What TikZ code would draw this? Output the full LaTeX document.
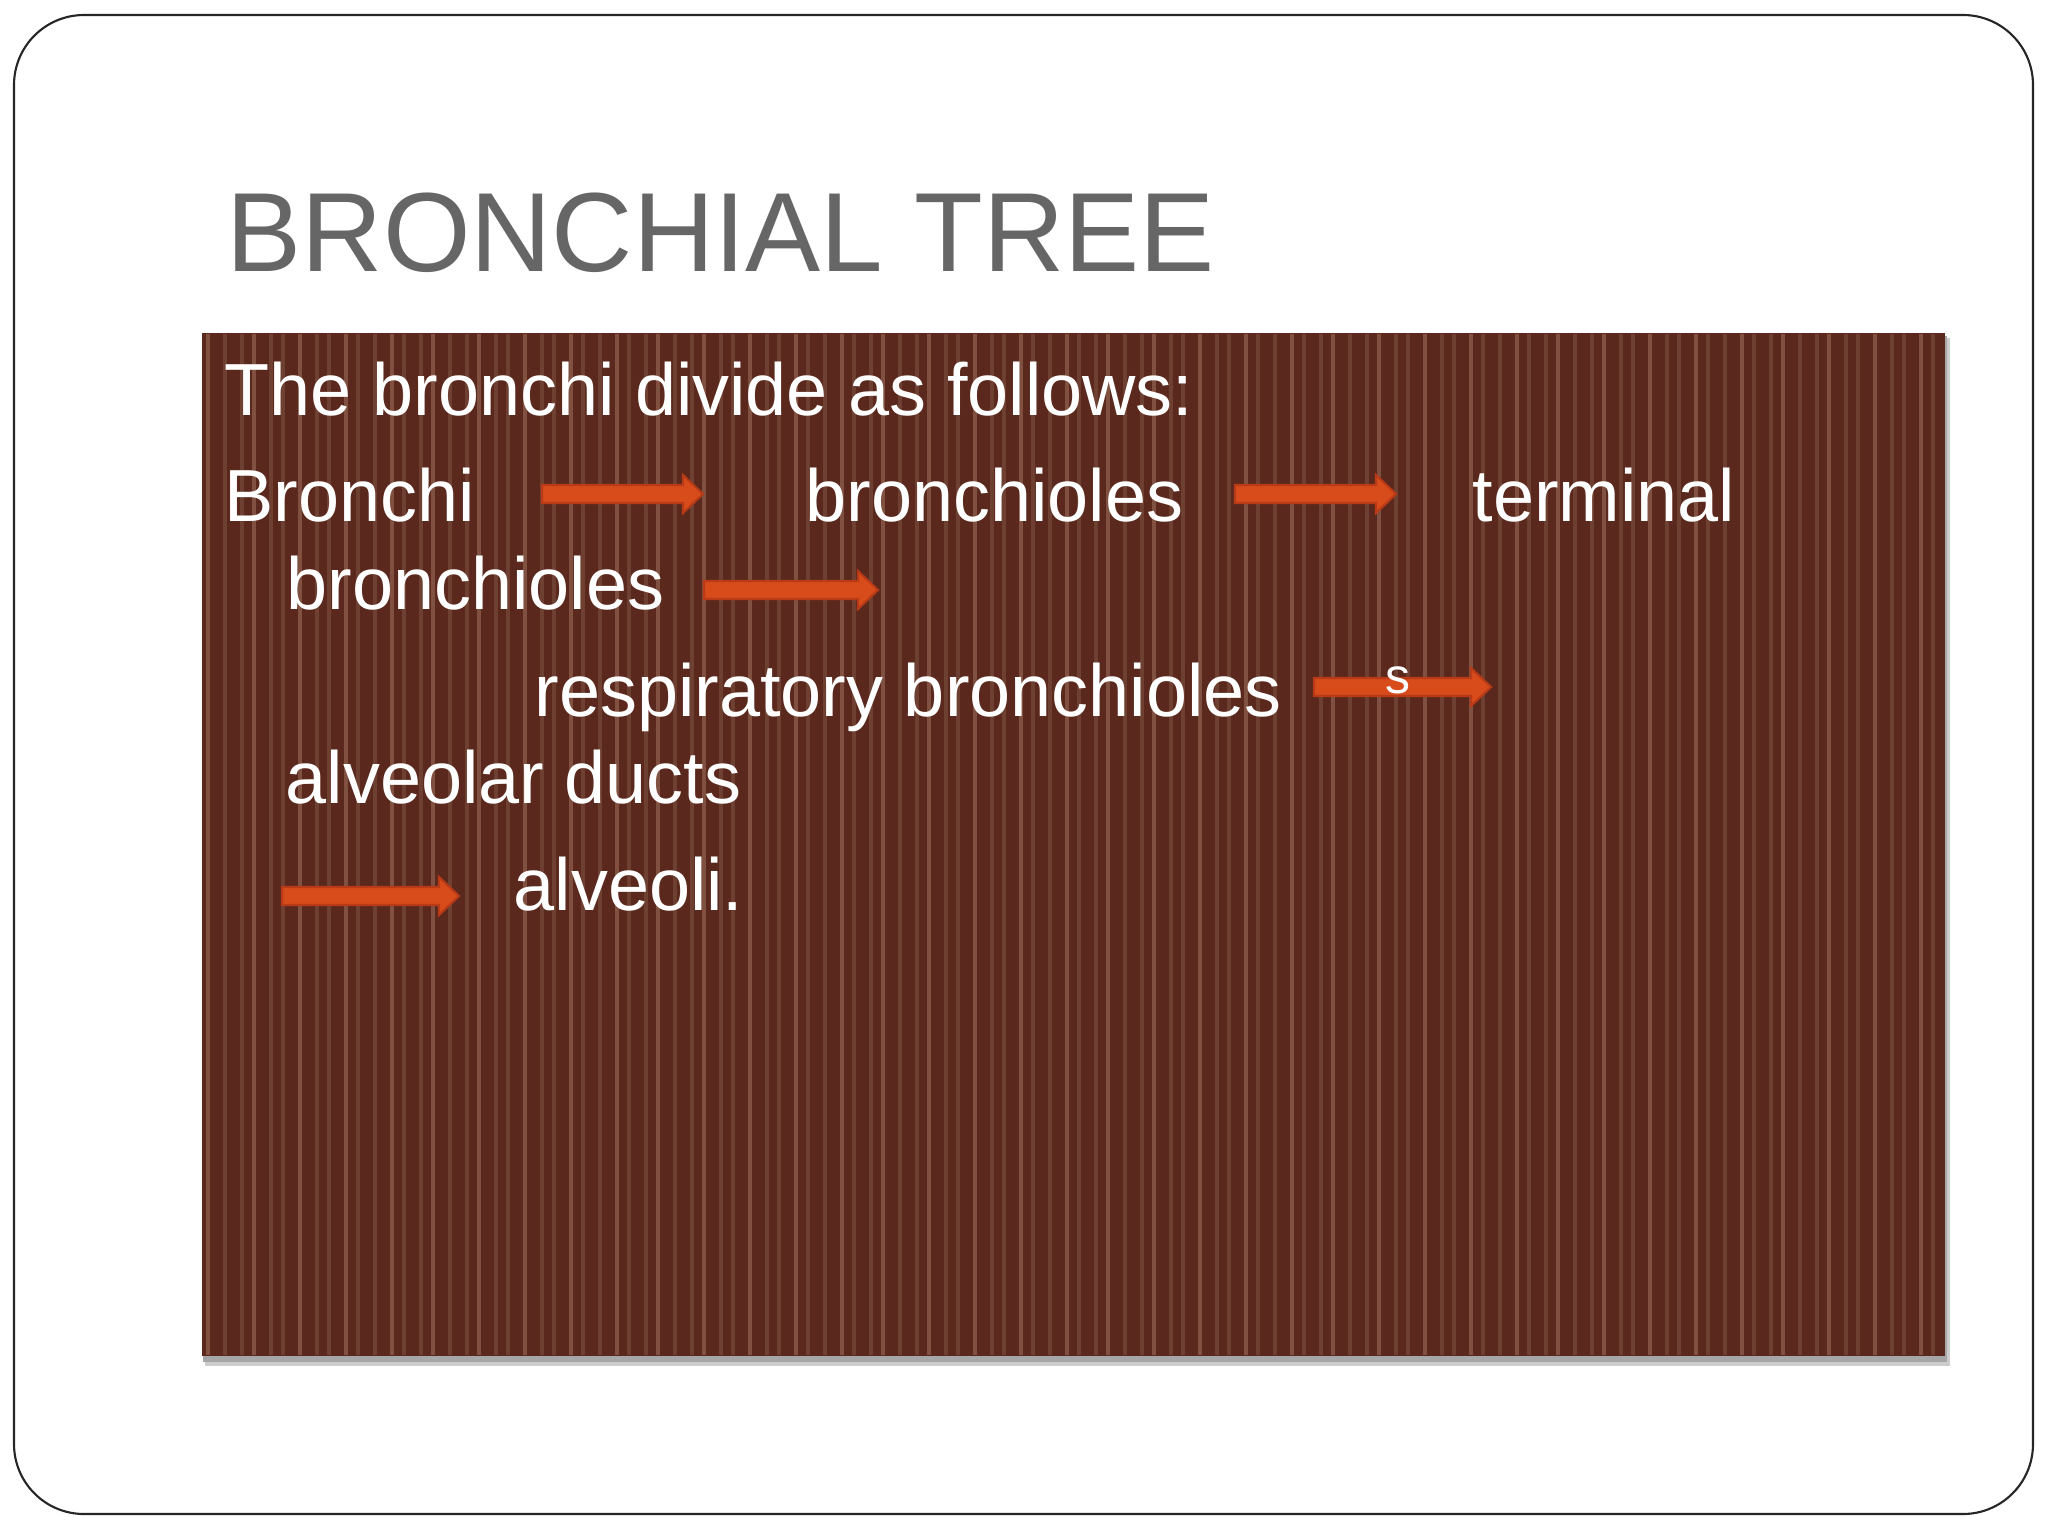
\documentclass[tikz,border=0pt]{standalone}
\usepackage{fontspec}
\setmainfont{Liberation Sans}
\definecolor{boxbrown}{RGB}{90,40,29}
\definecolor{stripeA}{RGB}{128,80,64}
\definecolor{stripeB}{RGB}{110,64,50}
\definecolor{arrowfill}{RGB}{216,76,28}
\definecolor{arrowline}{RGB}{185,58,22}
\definecolor{titlegray}{RGB}{102,102,102}
\tikzset{
  bodytext/.style={anchor=base west, inner sep=0pt, text=white, font=\fontsize{21pt}{25pt}\selectfont},
  titletext/.style={anchor=base west, inner sep=0pt, text=titlegray, font=\fontsize{32pt}{38pt}\selectfont},
  arrowsty/.style={fill=arrowfill, draw=arrowline, line width=0.6pt, line join=miter},
}
\newcommand\blockarr[3]{%
  \filldraw[arrowsty] (#1,#3-9) -- (#2-20,#3-9) -- (#2-20,#3-19) -- (#2,#3)
    -- (#2-20,#3+19) -- (#2-20,#3+9) -- (#1,#3+9) -- cycle;}
\begin{document}
\begin{tikzpicture}[x=0.01cm,y=-0.01cm]
\useasboundingbox (0,0) rectangle (2048,1536);
\fill[white] (0,0) rectangle (2048,1536);
% slide frame
\draw[line width=0.6pt, black!85, rounded corners=0.7cm] (14,15) rectangle (2033,1514);
% title
\node[titletext] (title) at (226,271) {BRONCHIAL TREE};
% box shadow
\fill[black!20] (205,338) rectangle (1950,1366);
\fill[black!35] (203,336) rectangle (1947,1362);
% box
\fill[boxbrown] (202,333) rectangle (1945,1356);
\foreach \i in {0,...,115}{
  \pgfmathsetmacro{\xx}{210+15*\i+mod(\i*7,5)-2}
  \pgfmathtruncatemacro{\mm}{mod(\i,3)}
  \ifnum\mm=0
    \draw[stripeA, line width=0.9pt] (\xx,334) -- (\xx,1355);
  \else
    \draw[stripeB, line width=0.9pt] (\xx,334) -- (\xx,1355);
  \fi
}
% text
\node[bodytext] (l1) at (224,415) {The bronchi divide as follows:};
\node[bodytext] (l2a) at (224,521) {Bronchi};
\node[bodytext] (l2b) at (805,521) {bronchioles};
\node[bodytext] (l2c) at (1472,521) {terminal};
\node[bodytext] (l3) at (286,609) {bronchioles};
\node[bodytext] (l4) at (534,716) {respiratory bronchioles};
\node[bodytext] (l5) at (285,803) {alveolar ducts};
\node[bodytext] (l6) at (513,910) {alveoli.};
% arrows
\blockarr{542}{703}{494}
\blockarr{1235}{1396}{494}
\blockarr{704}{878}{590}
\blockarr{1314}{1491}{687}
\blockarr{282}{459}{896}
\node[inner sep=0pt, text=white, font=\fontsize{14.2pt}{17pt}\selectfont] (s) at (1398,680) {s};
\end{tikzpicture}
\end{document}
